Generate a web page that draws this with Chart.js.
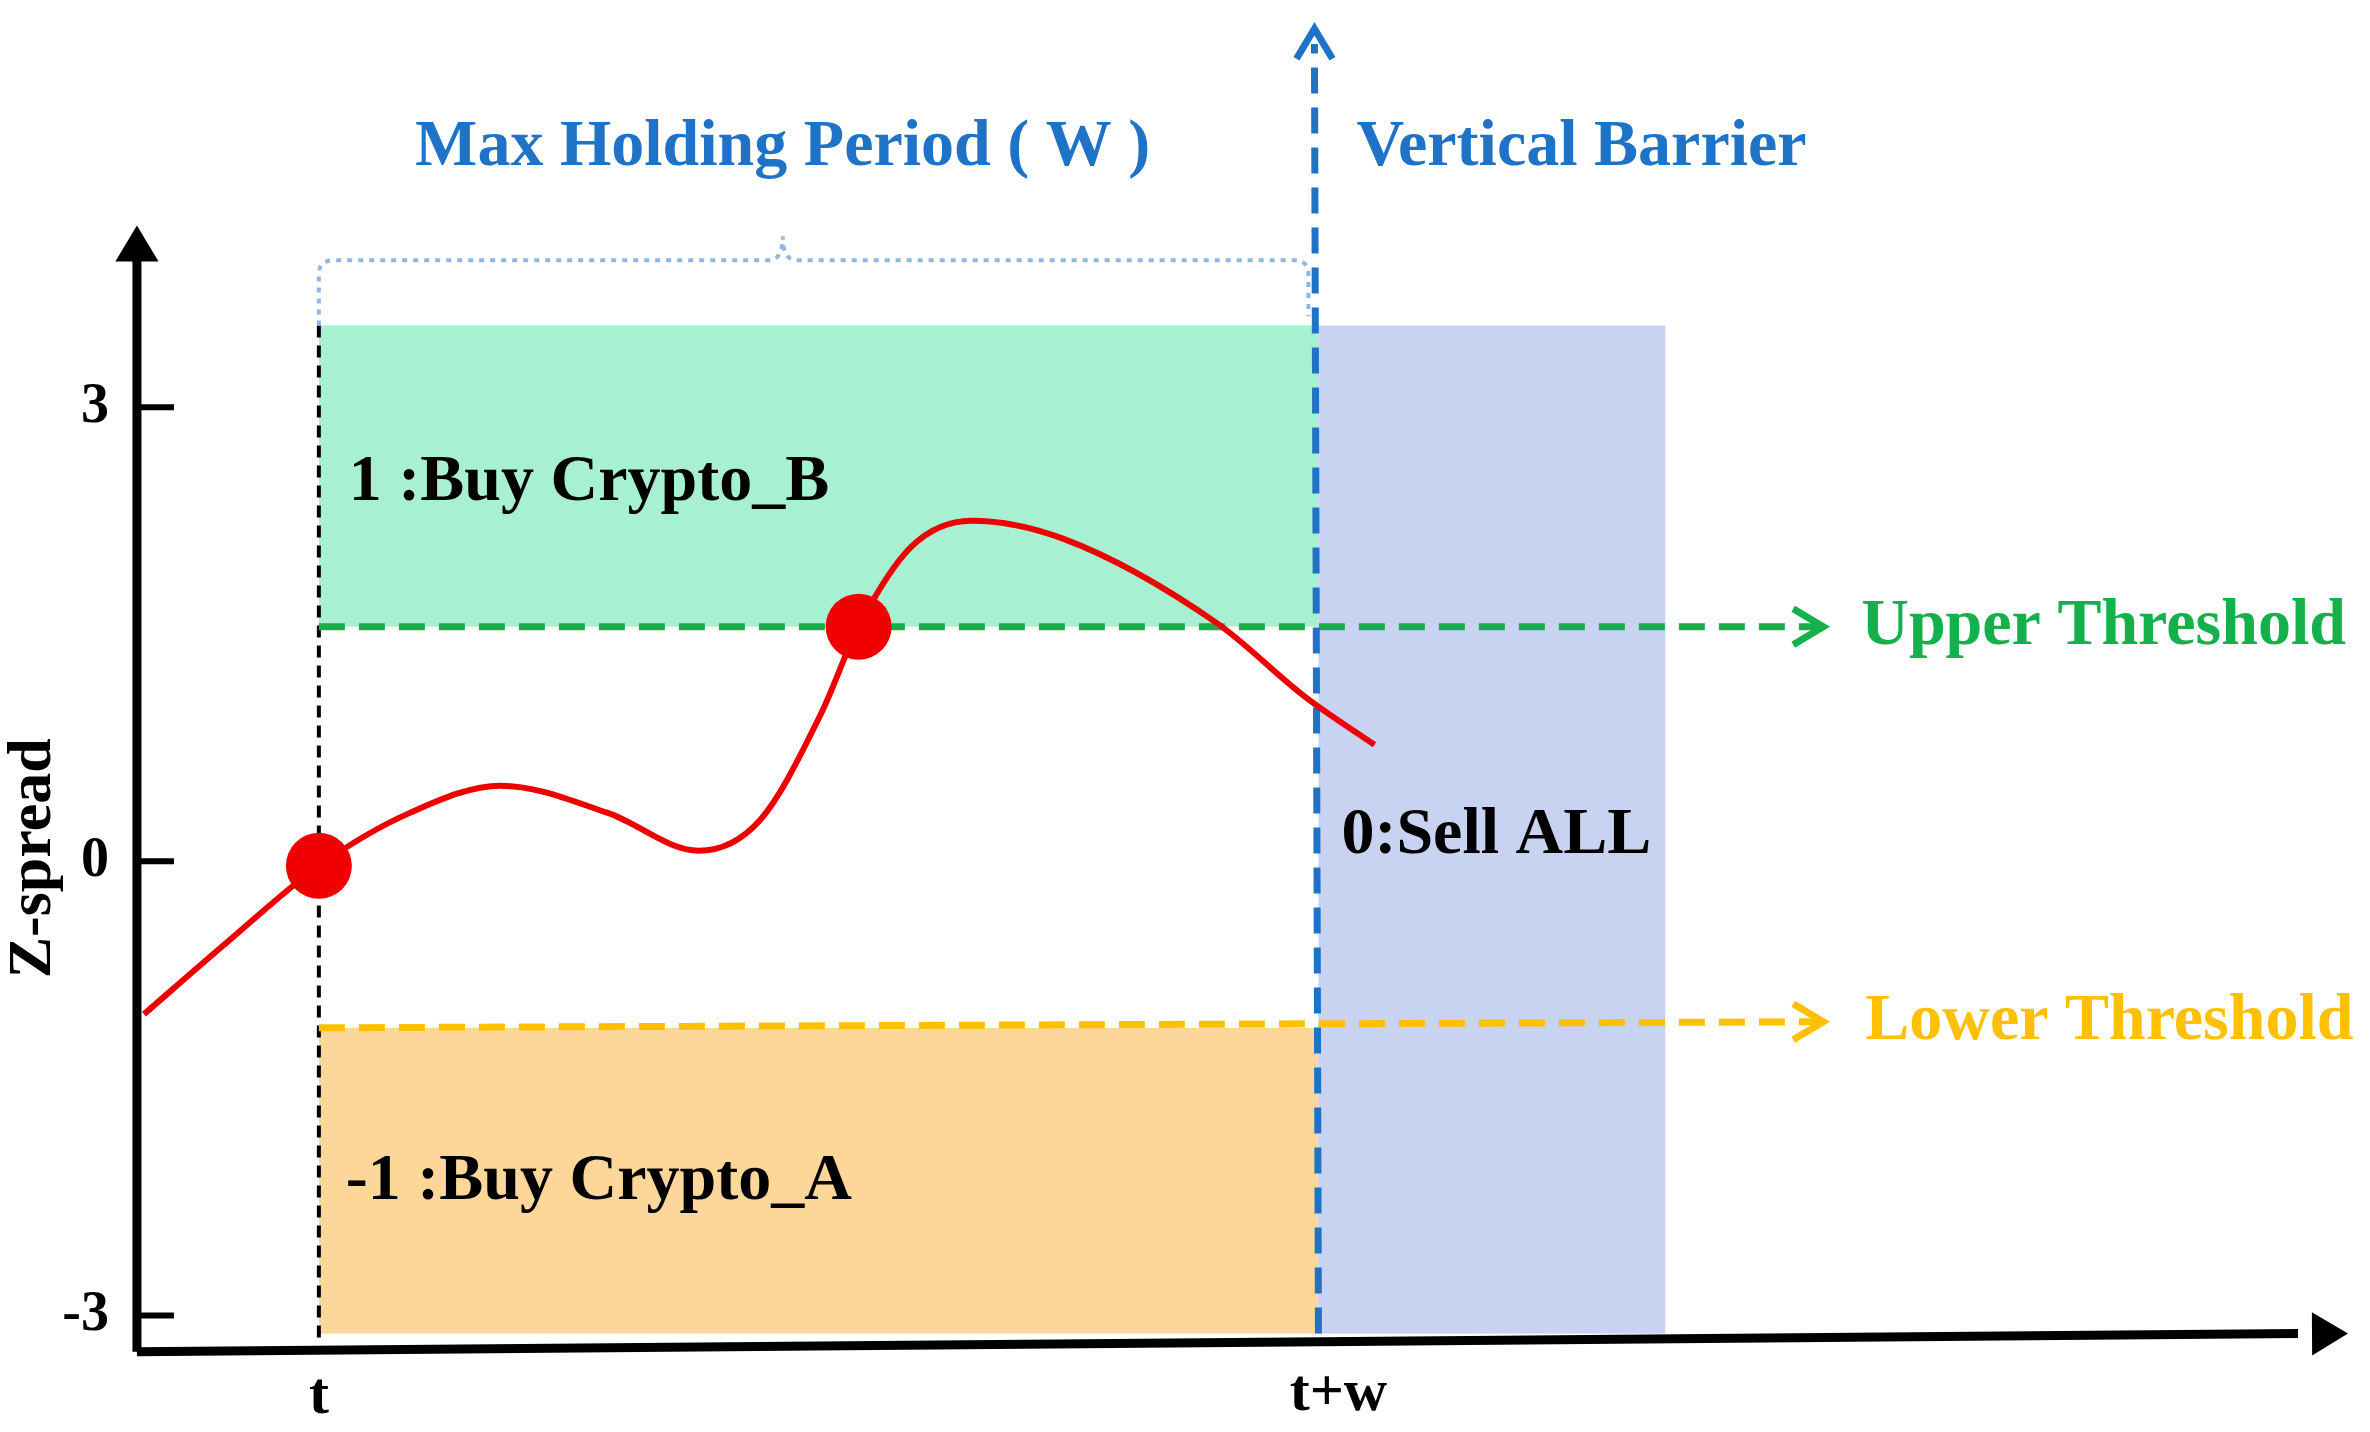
<!DOCTYPE html>
<html>
<head>
<meta charset="utf-8">
<script src="https://cdn.jsdelivr.net/npm/chart.js@4"></script>
<style>
  html, body { margin: 0; padding: 0; background: #fff; }
  #wrap { width: 2370px; height: 1432px; }
</style>
</head>
<body>
<div id="wrap"><canvas id="barrier"></canvas></div>
<script>
// time in steps (t = 0, t+w = 10), z-spread values
const spreadX = [-1.75, -0.91, 0, 0.91, 1.82, 2.89, 3.80, 4.41, 5.02, 5.40, 5.93, 6.53, 7.45, 8.97, 9.88, 10.56];
const spreadZ = [-1.01, -0.53, -0.03, 0.32, 0.50, 0.32, 0.07, 0.27, 0.97, 1.55, 2.08, 2.25, 2.13, 1.58, 1.08, 0.77];
const signalX = [0, 5.40];
const signalZ = [-0.03, 1.55];

const tStart = 0;
const tEnd = 10;
const barrierEnd = 13.47;
const upperThreshold = 1.55;
const lowerThreshold = -1.1;
const boxTop = 3.54;
const boxBottom = -3.12;
const yTicks = [3, 0, -3];

const serif = '"Liberation Serif", "Times New Roman", serif';

function arrowHead(ctx, x, y, angle, size, color, open) {
    ctx.save();
    ctx.translate(x, y);
    ctx.rotate(angle);
    ctx.setLineDash([]);
    ctx.beginPath();
    ctx.moveTo(-size, -size * 0.6);
    ctx.lineTo(0, 0);
    ctx.lineTo(-size, size * 0.6);
    if (open) {
        ctx.strokeStyle = color;
        ctx.lineWidth = 7;
        ctx.lineJoin = 'miter';
        ctx.stroke();
    } else {
        ctx.closePath();
        ctx.fillStyle = color;
        ctx.fill();
    }
    ctx.restore();
}

const backdrop = {
    id: 'backdrop',
    beforeDatasetsDraw(chart) {
        const ctx = chart.ctx;
        const X = v => chart.scales.x.getPixelForValue(v);
        const Y = v => chart.scales.y.getPixelForValue(v);
        ctx.save();
        // regions
        ctx.fillStyle = '#a8f0d2';
        ctx.fillRect(X(tStart), Y(boxTop), X(tEnd) - X(tStart), Y(upperThreshold) - Y(boxTop));
        ctx.fillStyle = '#fdd799';
        ctx.fillRect(X(tStart), Y(lowerThreshold), X(tEnd) - X(tStart), Y(boxBottom) - Y(lowerThreshold));
        ctx.fillStyle = '#c8d3f1';
        ctx.fillRect(X(tEnd), Y(boxTop), X(barrierEnd) - X(tEnd), Y(boxBottom) - Y(boxTop));

        // t dashed line
        ctx.strokeStyle = '#000';
        ctx.lineWidth = 4;
        ctx.setLineDash([12, 8]);
        ctx.beginPath();
        ctx.moveTo(X(tStart), Y(boxTop));
        ctx.lineTo(X(tStart), Y(-3.15));
        ctx.stroke();

        // thresholds
        ctx.lineWidth = 7;
        ctx.setLineDash([26, 14]);
        ctx.strokeStyle = '#13b04b';
        ctx.beginPath();
        ctx.moveTo(X(tStart), Y(upperThreshold));
        ctx.lineTo(X(15.0), Y(upperThreshold));
        ctx.stroke();
        arrowHead(ctx, X(15.05), Y(upperThreshold), 0, 30, '#13b04b', true);

        ctx.strokeStyle = '#ffc000';
        ctx.setLineDash([26, 14]);
        ctx.beginPath();
        ctx.moveTo(X(tStart), Y(lowerThreshold));
        ctx.lineTo(X(15.0), Y(-1.06));
        ctx.stroke();
        arrowHead(ctx, X(15.05), Y(-1.06), 0, 30, '#ffc000', true);

        // vertical barrier
        ctx.strokeStyle = '#1f73c6';
        ctx.lineWidth = 7;
        ctx.setLineDash([26, 14]);
        ctx.beginPath();
        ctx.moveTo(X(tEnd), Y(-3.12));
        ctx.lineTo(X(tEnd - 0.04), Y(5.4));
        ctx.stroke();
        arrowHead(ctx, X(tEnd - 0.04), Y(5.5), -Math.PI / 2, 30, '#1f73c6', true);

        // bracket for holding period
        ctx.strokeStyle = '#8fb6e4';
        ctx.lineWidth = 4;
        ctx.setLineDash([5, 6]);
        const yb = Y(3.97), yn = Y(4.13), r = 14;
        ctx.beginPath();
        ctx.moveTo(X(tStart), Y(boxTop));
        ctx.lineTo(X(tStart), yb + r);
        ctx.quadraticCurveTo(X(tStart), yb, X(tStart) + r, yb);
        ctx.lineTo(X(4.64) - r, yb);
        ctx.quadraticCurveTo(X(4.64), yb, X(4.64), yn);
        ctx.quadraticCurveTo(X(4.64), yb, X(4.64) + r, yb);
        ctx.lineTo(X(9.9) - r, yb);
        ctx.quadraticCurveTo(X(9.9), yb, X(9.9), yb + r);
        ctx.lineTo(X(9.9), Y(3.6));
        ctx.stroke();
        ctx.restore();
    },
    afterDatasetsDraw(chart) {
        const ctx = chart.ctx;
        const X = v => chart.scales.x.getPixelForValue(v);
        const Y = v => chart.scales.y.getPixelForValue(v);
        ctx.save();
        ctx.setLineDash([]);
        // axes
        ctx.strokeStyle = '#000';
        ctx.lineWidth = 9;
        ctx.beginPath();
        ctx.moveTo(X(-1.82), Y(-3.24));
        ctx.lineTo(X(-1.82), Y(4.0));
        ctx.stroke();
        arrowHead(ctx, X(-1.82), Y(4.2), -Math.PI / 2, 36, '#000', false);
        ctx.beginPath();
        ctx.moveTo(X(-1.82), Y(-3.24));
        ctx.lineTo(X(19.8), Y(-3.12));
        ctx.stroke();
        arrowHead(ctx, X(20.3), Y(-3.12), -0.006, 36, '#000', false);
        ctx.lineWidth = 6;
        yTicks.forEach(v => {
            ctx.beginPath();
            ctx.moveTo(X(-1.82), Y(v));
            ctx.lineTo(X(-1.45), Y(v));
            ctx.stroke();
        });

        ctx.fillStyle = '#000';
        ctx.font = 'bold 56px ' + serif;
        ctx.textAlign = 'right';
        ctx.textBaseline = 'middle';
        yTicks.forEach(v => ctx.fillText(String(v), X(-2.1), Y(v)));
        ctx.textAlign = 'center';
        ctx.font = 'bold 60px ' + serif;
        ctx.fillText('t', X(tStart), Y(-3.54));
        ctx.fillText('t+w', X(10.2), Y(-3.52));

        ctx.save();
        ctx.translate(X(-2.85), Y(0.02));
        ctx.rotate(-Math.PI / 2);
        ctx.font = 'bold 62px ' + serif;
        ctx.fillText('Z-spread', 0, 0);
        ctx.restore();

        ctx.font = 'bold 66px ' + serif;
        ctx.textAlign = 'left';
        ctx.fillStyle = '#000';
        ctx.fillText('1 :Buy Crypto_B', X(0.3), Y(2.5));
        ctx.fillText('-1 :Buy Crypto_A', X(0.27), Y(-2.12));
        ctx.fillText('0:Sell ALL', X(10.23), Y(0.17));
        ctx.fillStyle = '#13b04b';
        ctx.fillText('Upper Threshold', X(15.43), Y(upperThreshold));
        ctx.fillStyle = '#ffc000';
        ctx.fillText('Lower Threshold', X(15.47), Y(-1.06));
        ctx.fillStyle = '#1f73c6';
        ctx.fillText('Vertical Barrier', X(10.38), Y(4.71));
        ctx.textAlign = 'center';
        ctx.fillText('Max Holding Period ( W )', X(4.64), Y(4.71));
        ctx.restore();
    }
};

new Chart(document.getElementById('barrier'), {
    type: 'scatter',
    data: {
        datasets: [
            {
                data: signalX.map((x, i) => ({ x, y: signalZ[i] })),
                backgroundColor: '#f00000',
                borderWidth: 0,
                pointRadius: 33,
                pointHoverRadius: 33,
                order: 0
            },
            {
                type: 'line',
                data: spreadX.map((x, i) => ({ x, y: spreadZ[i] })),
                borderColor: '#ee0000',
                borderWidth: 6,
                pointRadius: 0,
                tension: 0.4,
                cubicInterpolationMode: 'monotone',
                order: 1
            }
        ]
    },
    options: {
        responsive: true,
        maintainAspectRatio: false,
        animation: false,
        layout: { padding: 0, autoPadding: false },
        plugins: { legend: { display: false }, tooltip: { enabled: false } },
        scales: {
            x: { type: 'linear', min: -3.19, max: 20.52, display: false },
            y: { min: -3.77, max: 5.69, display: false }
        }
    },
    plugins: [backdrop]
});
</script>
</body>
</html>
